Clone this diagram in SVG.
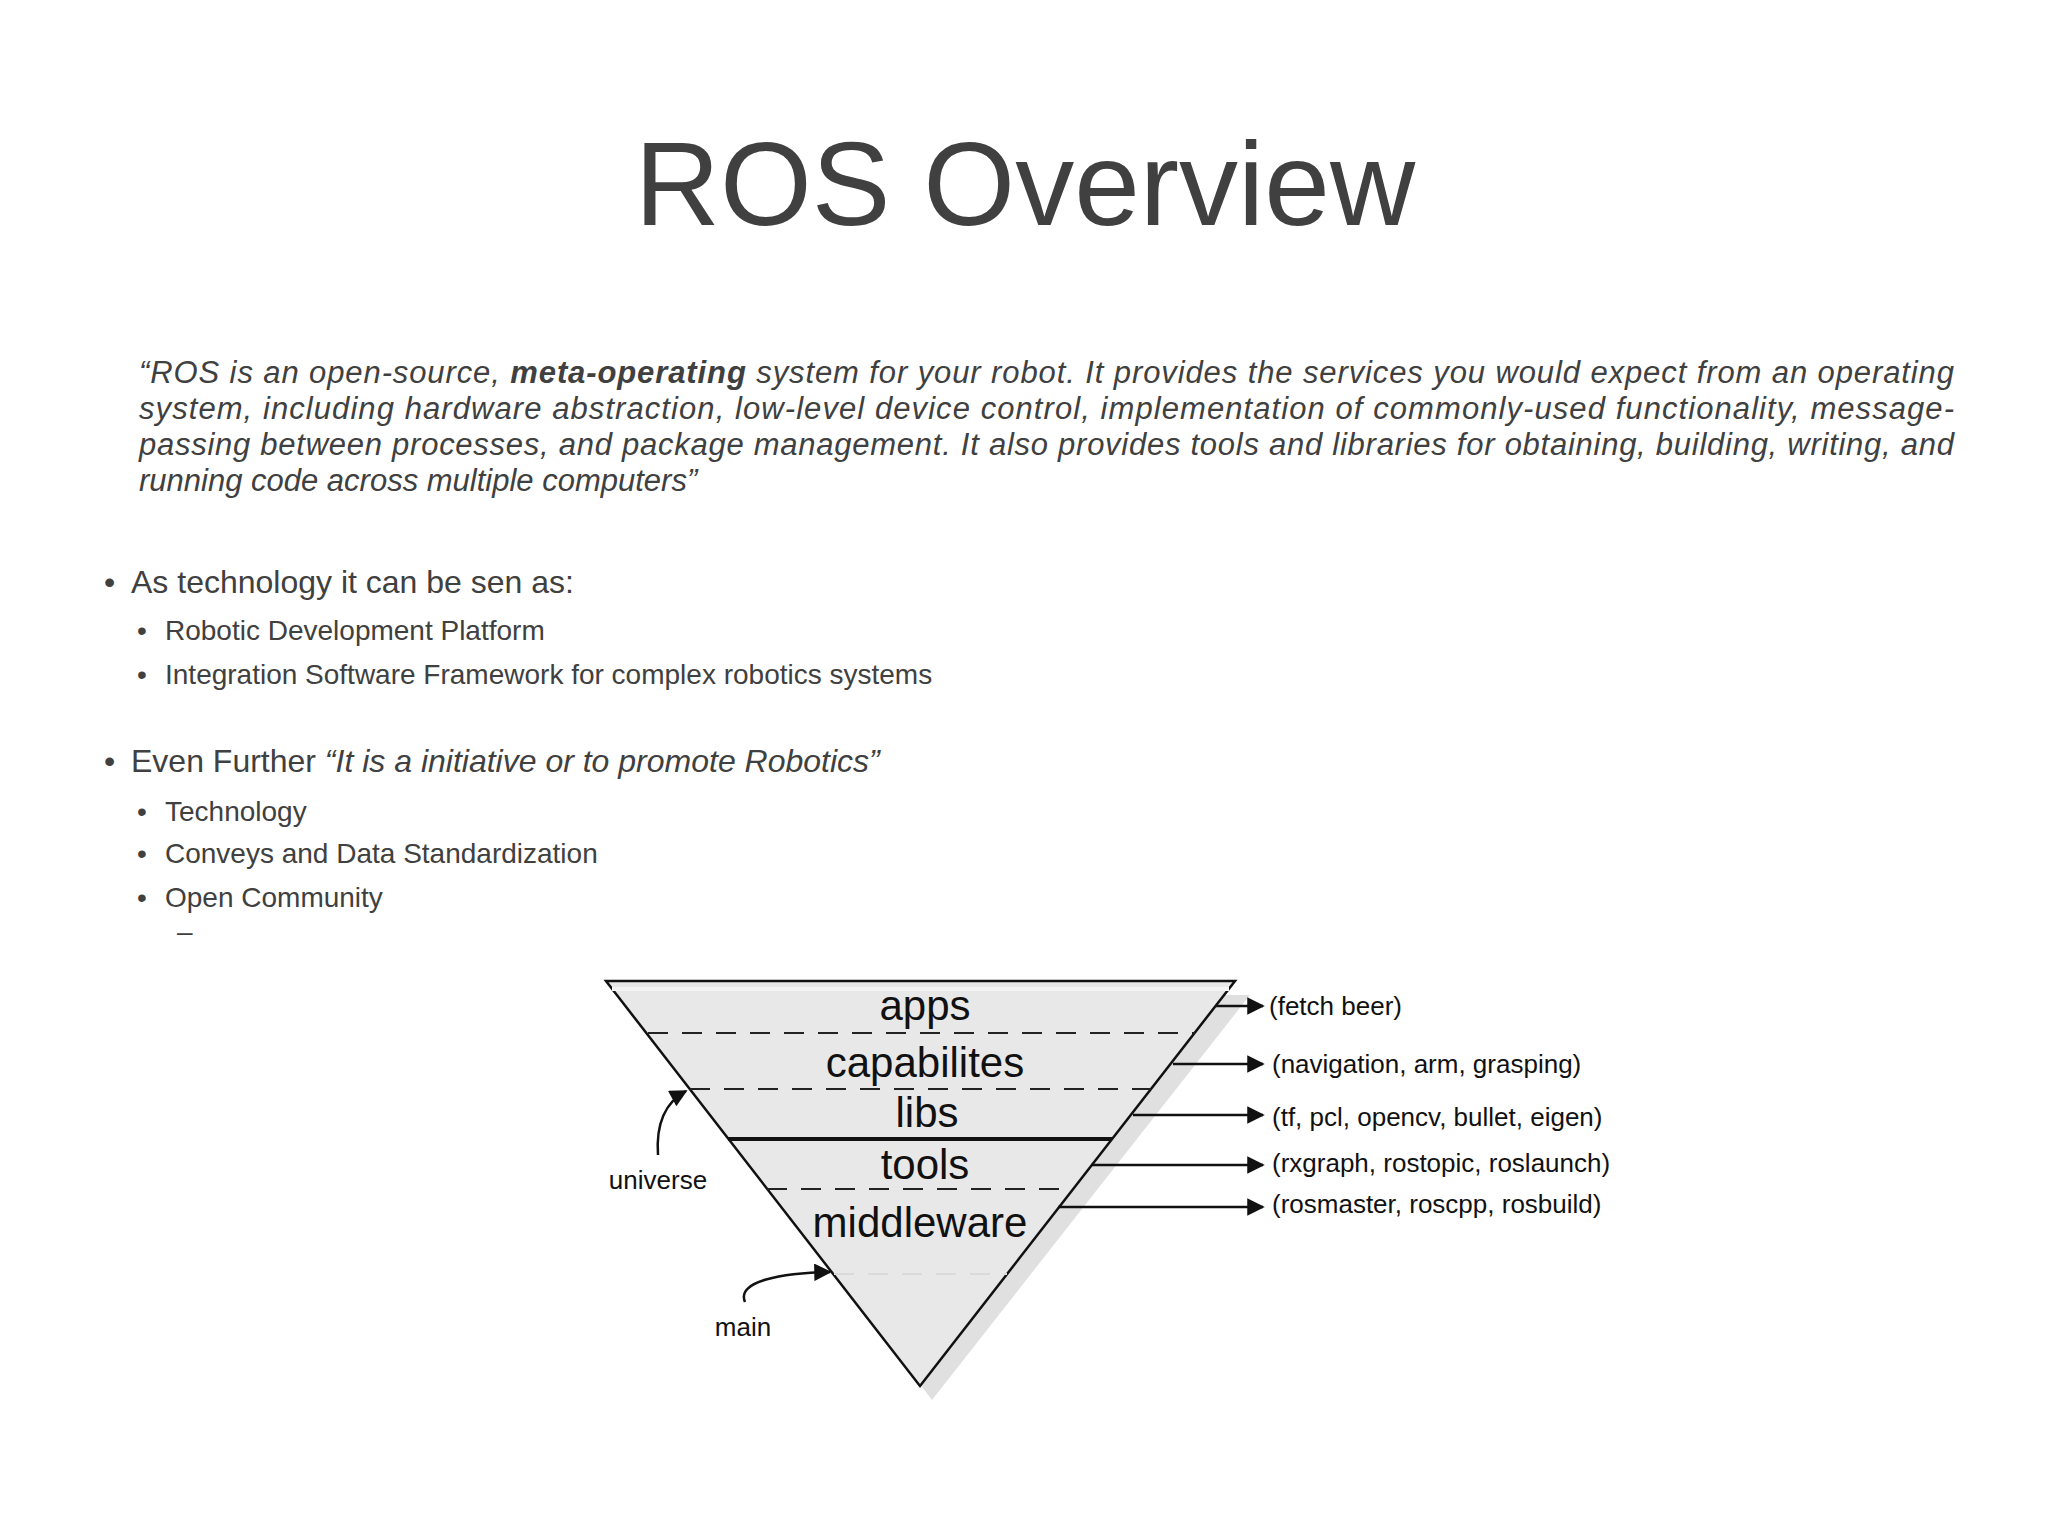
<svg xmlns="http://www.w3.org/2000/svg" width="2048" height="1535" viewBox="0 0 2048 1535">
<style>
.t{font-family:"Liberation Sans",Arial,sans-serif;fill:#404040}
.p{font-size:31px;font-style:italic}
.b1{font-size:32px}
.b2{font-size:28px}
.lay{font-family:"Liberation Sans",Arial,sans-serif;font-size:42px;fill:#111;text-anchor:middle}
.lbl{font-family:"Liberation Sans",Arial,sans-serif;font-size:26px;fill:#111}
.dash{stroke:#222;stroke-width:2;stroke-dasharray:20 14;fill:none}
.arr{stroke:#111;stroke-width:2.5;fill:none;marker-end:url(#ah)}
</style>
<defs>
<marker id="ah" viewBox="0 0 10 10" refX="9" refY="5" markerWidth="9" markerHeight="7" markerUnits="strokeWidth" orient="auto"><path d="M0,0L10,5L0,10z" fill="#111"/></marker>
</defs>
<rect width="2048" height="1535" fill="#fff"/>
<g transform="translate(-8,-9)">
<text class="t" x="1033" y="234" font-size="118" text-anchor="middle">ROS Overview</text>
<g id="quote" class="t p">
<text x="147" y="392" textLength="1815" lengthAdjust="spacing">“ROS is an open-source, <tspan font-weight="bold">meta-operating</tspan> system for your robot. It provides the services you would expect from an operating</text>
<text x="147" y="428" textLength="1815" lengthAdjust="spacing">system, including hardware abstraction, low-level device control, implementation of commonly-used functionality, message-</text>
<text x="147" y="464" textLength="1815" lengthAdjust="spacing">passing between processes, and package management. It also provides tools and libraries for obtaining, building, writing, and</text>
<text x="147" y="500">running code across multiple computers”</text>
</g>
<g id="bullets" class="t">
<text class="b1" x="112" y="602">•</text><text class="b1" x="139" y="602">As technology it can be sen as:</text>
<text class="b2" x="145" y="649">•</text><text class="b2" x="173" y="649">Robotic Development  Platform</text>
<text class="b2" x="145" y="693">•</text><text class="b2" x="173" y="693">Integration Software Framework for complex robotics systems</text>
<text class="b1" x="112" y="781">•</text><text class="b1" x="139" y="781">Even Further <tspan font-style="italic">“It is a initiative or to promote Robotics”</tspan></text>
<text class="b2" x="145" y="830">•</text><text class="b2" x="173" y="830">Technology</text>
<text class="b2" x="145" y="872">•</text><text class="b2" x="173" y="872">Conveys and Data Standardization</text>
<text class="b2" x="145" y="916">•</text><text class="b2" x="173" y="916">Open Community</text>
<text class="b2" x="185" y="950" font-size="18">–</text>
</g>
<g id="pyramid">
<polygon points="630,1004 1258,1004 940,1409" fill="#e0e0e0"/>
<polygon points="614,990 1243,990 928,1395" fill="#e8e8e8" stroke="#111" stroke-width="2.5"/>
<line x1="620" y1="998" x2="1237" y2="998" stroke="#f4f4f4" stroke-width="4"/>
<line class="dash" x1="656" y1="1042" x2="1203" y2="1042"/>
<line class="dash" x1="698" y1="1098" x2="1159" y2="1098"/>
<line x1="736" y1="1148" x2="1120" y2="1148" stroke="#111" stroke-width="4"/>
<line class="dash" x1="775" y1="1198" x2="1081" y2="1198"/>
<line x1="842" y1="1283" x2="1015" y2="1283" stroke="#dadada" stroke-width="2" stroke-dasharray="20 14"/>
<text class="lay" x="933" y="1029">apps</text>
<text class="lay" x="933" y="1086">capabilites</text>
<text class="lay" x="935" y="1136">libs</text>
<text class="lay" x="933" y="1188">tools</text>
<text class="lay" x="928" y="1246">middleware</text>
</g>
<g id="connectors">
<line class="arr" x1="1224" y1="1015" x2="1271" y2="1015"/>
<line class="arr" x1="1181" y1="1073" x2="1271" y2="1073"/>
<line class="arr" x1="1141" y1="1124" x2="1271" y2="1124"/>
<line class="arr" x1="1099" y1="1174" x2="1271" y2="1174"/>
<line class="arr" x1="1066" y1="1216" x2="1271" y2="1216"/>
<path class="arr" d="M666,1164 C664,1135 672,1112 694,1100"/>
<path class="arr" d="M753,1311 C744,1290 790,1282 838,1281"/>
</g>
<g id="labels">
<text class="lbl" x="1277" y="1024">(fetch beer)</text>
<text class="lbl" x="1280" y="1082">(navigation, arm, grasping)</text>
<text class="lbl" x="1280" y="1135">(tf, pcl, opencv, bullet, eigen)</text>
<text class="lbl" x="1280" y="1181">(rxgraph, rostopic, roslaunch)</text>
<text class="lbl" x="1280" y="1222">(rosmaster, roscpp, rosbuild)</text>
<text class="lbl" x="666" y="1198" font-size="30" text-anchor="middle">universe</text>
<text class="lbl" x="751" y="1345" font-size="30" text-anchor="middle">main</text>
</g>
</g>
</svg>
